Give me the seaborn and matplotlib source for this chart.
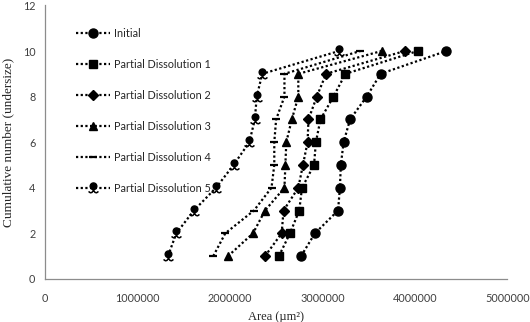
import numpy as np
import pandas as pd
import seaborn as sns
import matplotlib.pyplot as plt
from matplotlib.path import Path
from matplotlib.legend_handler import HandlerTuple

# cumulative number (undersize) vs particle area
cum_number = [1, 2, 3, 4, 5, 6, 7, 8, 9, 10]
initial = [2770000, 2920000, 3170000, 3190000, 3200000, 3230000, 3300000, 3480000, 3630000, 4340000]
pd1 = [2530000, 2650000, 2750000, 2780000, 2910000, 2930000, 2980000, 3120000, 3250000, 4030000]
pd2 = [2380000, 2560000, 2580000, 2740000, 2790000, 2840000, 2850000, 2940000, 3040000, 3890000]
pd3 = [1980000, 2250000, 2380000, 2590000, 2600000, 2610000, 2670000, 2740000, 2740000, 3640000]
pd4 = [1820000, 1950000, 2260000, 2450000, 2480000, 2480000, 2500000, 2590000, 2590000, 3410000]
pd5 = [1330000, 1420000, 1610000, 1850000, 2040000, 2210000, 2270000, 2290000, 2350000, 3180000]

labels = ["Initial", "Partial Dissolution 1", "Partial Dissolution 2",
          "Partial Dissolution 3", "Partial Dissolution 4", "Partial Dissolution 5"]
series = [initial, pd1, pd2, pd3, pd4, pd5]

# odd marker for the last series: a ball sitting on curly feet
# (both paths reach 1.0 so matplotlib scales them the same way)
head = Path.circle((0, 0.4), 0.6)
feet = Path([(0, 1.0),
             (0, -0.15), (-0.1, -0.9), (-0.7, -0.9), (-0.85, -0.5),
             (0, -0.15), (0.1, -0.9), (0.7, -0.9), (0.85, -0.5)],
            [Path.MOVETO,
             Path.MOVETO, Path.CURVE4, Path.CURVE4, Path.CURVE4,
             Path.MOVETO, Path.CURVE4, Path.CURVE4, Path.CURVE4])
markers = ["o", "s", "D", "^", "_", head]
sizes = [6.5, 6, 5, 6, 6, 8]

sns.set_theme(style="white")
plt.rcParams["font.family"] = ["Lato", "DejaVu Sans"]

fig = plt.figure(figsize=(5.3, 3.22), dpi=100)
ax = fig.add_axes([0.085, 0.134, 0.872, 0.849])

handles = []
for lab, xs, m, s in zip(labels, series, markers, sizes):
    df = pd.DataFrame({"area": xs, "n": cum_number})
    sns.lineplot(data=df, x="area", y="n", sort=False, estimator=None,
                 color="black", linestyle=(0, (1, 1.1)), linewidth=1.6, marker=m,
                 markersize=s, markeredgecolor="black",
                 markeredgewidth=1 if m != "_" else 1.6, ax=ax)
    ln = ax.lines[-1]
    ln.set_dash_capstyle("butt")
    handles.append(ln)

# curly feet for PD5
feet_ln, = ax.plot(pd5, cum_number, linestyle="none", marker=feet, markersize=8,
                   fillstyle="none", markeredgecolor="black", markeredgewidth=1.1)
handles[-1] = (handles[-1], feet_ln)

ax.set_xlim(0, 5000000)
ax.set_ylim(0, 12)
ax.set_xticks(np.arange(0, 5000001, 1000000))
ax.set_xticklabels([str(v) for v in range(0, 5000001, 1000000)])
ax.set_yticks(range(0, 13, 2))

for side in ["top", "right"]:
    ax.spines[side].set_visible(False)
for side in ["left", "bottom"]:
    ax.spines[side].set_color("#8c8c8c")
    ax.spines[side].set_linewidth(0.9)
ax.tick_params(axis="both", which="major", direction="out", length=4, width=0.9,
               color="#8c8c8c", labelsize=7.8, labelcolor="#404040", pad=3)
ax.tick_params(axis="x", pad=6)

ax.set_xlabel("Area (µm²)", family="Liberation Serif", fontsize=9, labelpad=5)
ax.set_ylabel("Cumulative number (undersize)", family="Liberation Serif", fontsize=9.5,
              labelpad=6)

ax.legend(handles, labels, loc="upper left", bbox_to_anchor=(0.045, 0.955), frameon=False,
          fontsize=7.8, labelspacing=1.85, handlelength=3.2, handletextpad=0.3,
          handler_map={tuple: HandlerTuple(ndivide=1, pad=0)})

fig.savefig("out.png", dpi=100)
